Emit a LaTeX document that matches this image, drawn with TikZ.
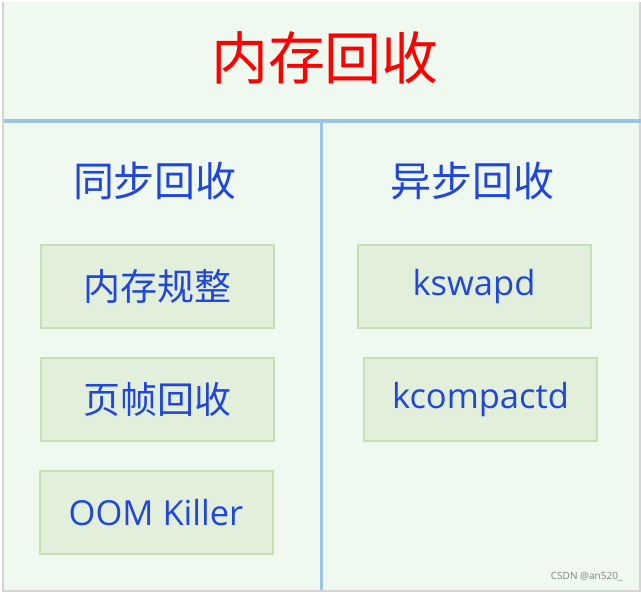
\documentclass[tikz,border=0pt]{standalone}
\usepackage{fontspec}
\setmainfont{Open Sans}
\newfontfamily\cjk{Noto Sans CJK SC}
\usetikzlibrary{positioning}
\definecolor{panelbg}{HTML}{F0F9F0}
\definecolor{framegray}{HTML}{D4D4D4}
\definecolor{rulerblue}{HTML}{9DC3E6}
\definecolor{boxfill}{HTML}{E2EFDA}
\definecolor{boxline}{HTML}{C5E0B4}
\definecolor{itemblue}{HTML}{2146E0}

\begin{document}
\begin{tikzpicture}[x=1pt,y=-1pt,node distance=28pt,
    box/.style={draw=boxline,fill=boxfill,line width=2pt,minimum width=233pt,
                minimum height=83pt,inner sep=0pt,text=itemblue},
    cjkitem/.style={box,font=\cjk\fontsize{37}{40}\selectfont},
    latinitem/.style={box,font=\fontsize{34.5}{38}\selectfont},
    heading/.style={text=itemblue,font=\cjk\fontsize{41}{46}\selectfont}]

  % page and frame
  \fill[white] (0,0) rectangle (641,592);
  \useasboundingbox (0,0) rectangle (641,592);
  \fill[panelbg] (2,2) rectangle (640,591);
  \draw[framegray,line width=2pt] (2.5,2) -- (2.5,591) -- (639.5,591) -- (639.5,2);

  % dividers
  \draw[rulerblue,line width=3.5pt] (4,121) -- (641,121);
  \draw[rulerblue,line width=3pt] (321.5,121) -- (321.5,590);

  % titles
  \node[text=red,font=\cjk\fontsize{57}{62}\selectfont] (title) at (325,58) {内存回收};
  \node[heading] (sync) at (155,181) {同步回收};
  \node[heading] (async) at (472,181) {异步回收};

  % left column
  \node[cjkitem] (1) at (157.5,286.5) {内存规整};
  \node[cjkitem] (2) [below=of 1] {页帧回收};
  \node[latinitem] (3) [below=of 2,xshift=-1.5pt] {OOM Killer};

  % right column
  \node[latinitem] (4) at (474,286.5) {kswapd};
  \node[latinitem] (5) [below=of 4,xshift=6.5pt] {kcompactd};

  \node[text=gray,font=\fontsize{10}{12}\selectfont,anchor=east] (mark) at (626,577) {CSDN @an520\_};
\end{tikzpicture}
\end{document}
